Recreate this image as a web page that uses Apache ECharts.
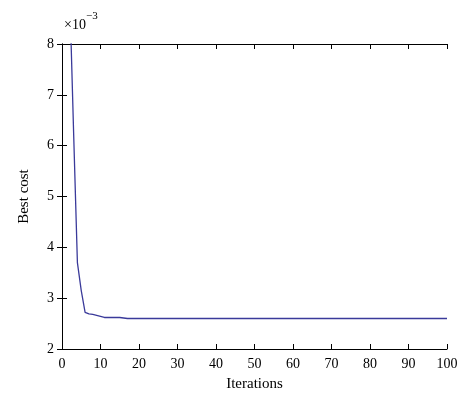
<!DOCTYPE html>
<html>
<head>
<meta charset="utf-8">
<script src="https://cdn.jsdelivr.net/npm/echarts@6/dist/echarts.min.js"></script>
<style>html,body{margin:0;padding:0;background:#fff}#chart{width:474px;height:413px}</style>
</head>
<body>
<div id="chart"></div>
<script>
// best cost in units of 1e-3
var iterations = [2, 3, 4, 5, 6, 7, 8, 9, 10, 11, 12, 13, 14, 15, 16, 17, 100]
var bestCost = [9.0, 6.3, 3.7, 3.15, 2.72, 2.69, 2.68, 2.66, 2.64, 2.62, 2.62, 2.62, 2.62, 2.62, 2.61, 2.6, 2.6]
var xTicks = [0, 10, 20, 30, 40, 50, 60, 70, 80, 90, 100]
var yTicks = [2, 3, 4, 5, 6, 7, 8]

var points = iterations.map(function (it, i) { return [it, bestCost[i]] })
var font = 'Liberation Serif'
var myChart = echarts.init(document.getElementById('chart'))
var tickStyle = { show: true, inside: true, length: 5, lineStyle: { color: '#000' } }
var lineStyle = { lineStyle: { color: '#000', width: 1 } }
myChart.setOption({
  animation: false,
  textStyle: { fontFamily: font },
  grid: { left: 62, top: 44, right: 27, bottom: 64 },
  graphic: [{
    type: 'text', left: 64, top: 18,
    style: { text: '×10', fontFamily: font, fontSize: 14, fill: '#000' }
  }, {
    type: 'text', left: 86, top: 11,
    style: { text: '−3', fontFamily: font, fontSize: 11, fill: '#000' }
  }],
  xAxis: [{
    type: 'value', min: 0, max: 100, interval: 10,
    name: 'Iterations', nameLocation: 'middle', nameGap: 28,
    nameTextStyle: { fontSize: 15, color: '#000', fontFamily: font },
    axisLine: lineStyle, axisTick: tickStyle, splitLine: { show: false },
    axisLabel: { color: '#000', fontSize: 14, fontFamily: font }
  }, {
    type: 'value', position: 'top', min: 0, max: 100, interval: 10,
    axisLine: lineStyle, axisTick: tickStyle, splitLine: { show: false },
    axisLabel: { show: false }
  }],
  yAxis: [{
    type: 'value', min: 2, max: 8, interval: 1,
    name: 'Best cost', nameLocation: 'middle', nameGap: 30,
    nameTextStyle: { fontSize: 15, color: '#000', fontFamily: font },
    axisLine: lineStyle, axisTick: tickStyle, splitLine: { show: false },
    axisLabel: { color: '#000', fontSize: 14, fontFamily: font }
  }, {
    type: 'value', position: 'right', min: 2, max: 8, interval: 1,
    axisLine: lineStyle, axisTick: tickStyle, splitLine: { show: false },
    axisLabel: { show: false }
  }],
  series: [{
    type: 'line', data: points, showSymbol: false, clip: true,
    lineStyle: { color: '#3a3a9a', width: 1.3 }
  }]
})
</script>
</body>
</html>
